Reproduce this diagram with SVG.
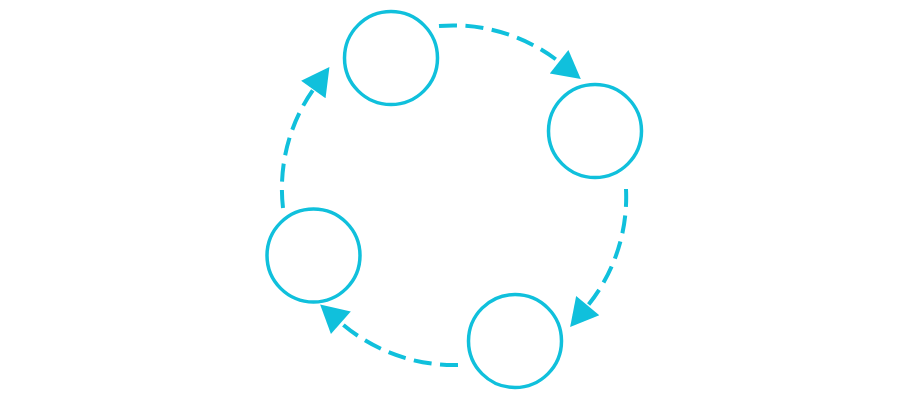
<svg xmlns="http://www.w3.org/2000/svg" width="900" height="400" viewBox="0 0 900 400">
  <style>
    .node { fill: #ffffff; stroke: #10C0DC; stroke-width: 3.5; }
    .link { fill: none; stroke: #10C0DC; stroke-width: 4; stroke-dasharray: 18 8.5; }
  </style>
  <defs>
    <marker id="arrow" markerUnits="userSpaceOnUse" markerWidth="30" markerHeight="30" viewBox="0 0 24 26" refX="1" refY="13" orient="auto">
      <path d="M0,0 L24,13 L0,26 Z" fill="#10C0DC"/>
    </marker>
  </defs>
  <rect width="900" height="400" fill="#ffffff"/>
  <g id="connectors">
    <path class="link" d="M439,26 A172,172 0 0 1 560,62.5" marker-end="url(#arrow)"/>
    <path class="link" d="M626,189 A172,172 0 0 1 587,306.5" marker-end="url(#arrow)"/>
    <path class="link" d="M458,365 A172,172 0 0 1 340,322" marker-end="url(#arrow)"/>
    <path class="link" d="M283,208 A172,172 0 0 1 314,88.5" marker-end="url(#arrow)"/>
  </g>
  <g id="node1"><circle class="node" cx="391" cy="58" r="46.5"/></g>
  <g id="node2"><circle class="node" cx="595" cy="131" r="46.5"/></g>
  <g id="node3"><circle class="node" cx="515" cy="341" r="46.5"/></g>
  <g id="node4"><circle class="node" cx="313.5" cy="255.5" r="46.5"/></g>
</svg>
